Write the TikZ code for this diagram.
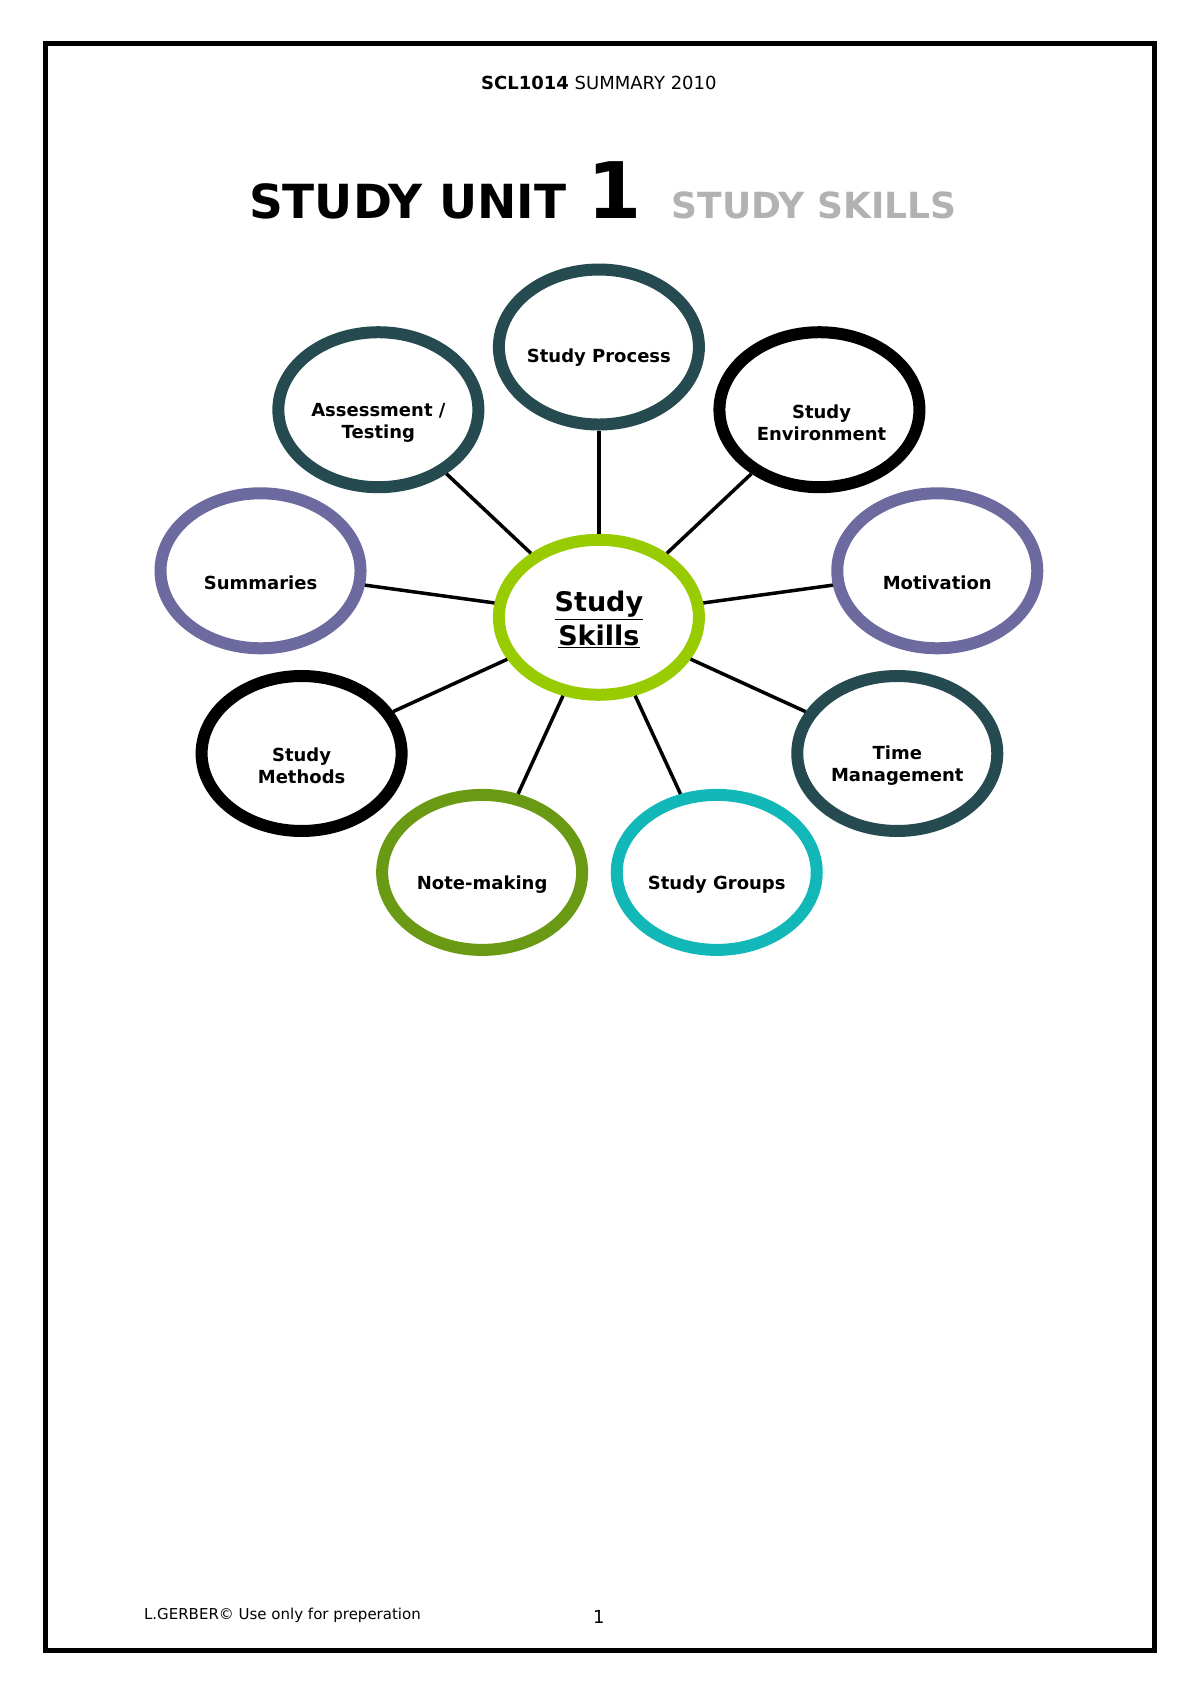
\documentclass[tikz,border=0pt]{standalone}
\usepackage{fontspec}
\setmainfont{DejaVu Sans}
\usetikzlibrary{shapes.geometric}
\definecolor{teal}{HTML}{254A50}
\definecolor{purp}{HTML}{6C6A9E}
\definecolor{lime}{HTML}{99CC00}
\definecolor{olive}{HTML}{6A9A14}
\definecolor{cyanc}{HTML}{12B8B8}
\begin{document}
\begin{tikzpicture}[x=1.081pt,y=-1.081pt,
  bub/.style={ellipse,draw,line width=12pt,minimum width=200pt,minimum height=155pt,inner sep=0pt},
  lbl/.style={align=center,font=\fontsize{18}{22}\selectfont\bfseries},
  conn/.style={line width=3.5pt}]
\useasboundingbox (0,0) rectangle (1110,1570.7);
\draw[line width=5pt] (42,40) rectangle (1068,1527);
\node[font=\fontsize{18}{20}\selectfont] (hdr) at (554,77) {\textbf{SCL1014} SUMMARY 2010};
\node[anchor=base east,font=\fontsize{47}{50}\selectfont\bfseries] (t1) at (527,202) {STUDY UNIT};
\node[anchor=base,font=\fontsize{78}{80}\selectfont\bfseries] (t2) at (569,202) {1};
\node[anchor=base west,font=\fontsize{36}{40}\selectfont\bfseries,text=black!30] (t3) at (618,202) {STUDY SKILLS};
\node[bub,draw=lime] (c) at (554,571) {};
\node[lbl,font=\fontsize{27}{34}\selectfont\bfseries] (cl) at (554,573) {\underline{Study}\\\underline{Skills}};
\node[bub,draw=teal] (sp) at (554,321) {};
\node[bub,draw=teal] (as) at (350,379) {};
\node[bub,draw=black] (se) at (758,379) {};
\node[bub,draw=purp] (su) at (241,528) {};
\node[bub,draw=purp] (mo) at (867,528) {};
\node[bub,draw=black] (sm) at (279,697) {};
\node[bub,draw=teal] (tm) at (830,697) {};
\node[bub,draw=olive] (nm) at (446,807) {};
\node[bub,draw=cyanc] (sg) at (663,807) {};
\node[lbl] (spl) at (554,331) {Study Process};
\node[lbl] (asl) at (350,391) {Assessment /\\Testing};
\node[lbl] (sel) at (760,391) {Study\\Environment};
\node[lbl] (sul) at (241,539) {Summaries};
\node[lbl] (mol) at (867,539) {Motivation};
\node[lbl] (sml) at (279,708) {Study\\Methods};
\node[lbl] (tml) at (830,708) {Time\\Management};
\node[lbl] (nml) at (446,818) {Note-making};
\node[lbl] (sgl) at (663,818) {Study Groups};
\foreach \n in {sp,as,se,su,mo,sm,tm,nm,sg} \draw[conn] (c) -- (\n);
\node[anchor=base west,font=\fontsize{15}{17}\selectfont] (ft) at (130,1498) {L.GERBER© Use only for preperation};
\node[anchor=base,font=\fontsize{18}{20}\selectfont\rmfamily] (pg) at (554,1502) {1};
\end{tikzpicture}
\end{document}
